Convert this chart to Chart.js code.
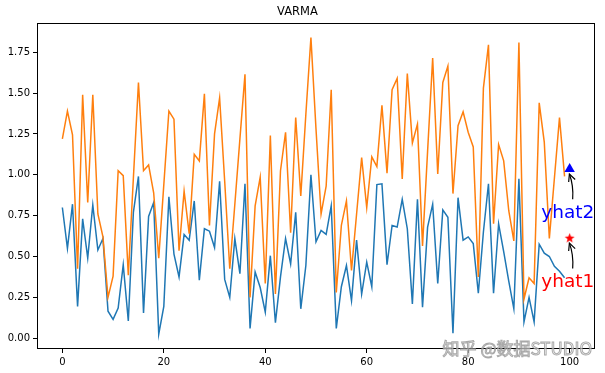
<!DOCTYPE html>
<html lang="en">
<head>
<meta charset="UTF-8">
<title>VARMA</title>
<script src="https://cdn.jsdelivr.net/npm/chart.js"></script>
<style>
    html, body { margin: 0; padding: 0; background: #ffffff; }
    canvas { display: block; }
</style>
</head>
<body>
<canvas id="chart" width="605" height="373"></canvas>
<script>
// series 1 (blue) and series 2 (orange), one value per step 0..99
const blueSeries = [
    0.80, 0.55, 0.82, 0.195, 0.73, 0.49, 0.815, 0.54, 0.61, 0.165,
    0.115, 0.185, 0.45, 0.105, 0.77, 0.99, 0.155, 0.745, 0.83, 0.025,
    0.195, 0.865, 0.515, 0.375, 0.635, 0.60, 0.84, 0.355, 0.67, 0.655,
    0.555, 0.96, 0.36, 0.25, 0.61, 0.395, 0.945, 0.06, 0.405, 0.31,
    0.16, 0.505, 0.095, 0.375, 0.61, 0.455, 0.77, 0.18, 0.445, 1.00,
    0.59, 0.66, 0.635, 0.81, 0.06, 0.315, 0.445, 0.23, 0.60, 0.27,
    0.465, 0.315, 0.94, 0.945, 0.45, 0.69, 0.68, 0.85, 0.67, 0.21,
    0.85, 0.19, 0.68, 0.82, 0.335, 0.785, 0.74, 0.03, 0.86, 0.60,
    0.62, 0.58, 0.275, 0.65, 0.945, 0.275, 0.70, 0.53, 0.35, 0.18,
    0.975, 0.10, 0.25, 0.10, 0.575, 0.52, 0.50, 0.44, 0.41, 0.37
];
const orangeSeries = [
    1.22, 1.39, 1.245, 0.425, 1.49, 0.83, 1.49, 0.76, 0.62, 0.25,
    0.38, 1.025, 0.995, 0.385, 0.98, 1.565, 1.025, 1.06, 0.89, 0.49,
    0.94, 1.39, 1.34, 0.535, 0.90, 0.64, 1.125, 1.085, 1.495, 0.69,
    1.25, 1.47, 0.96, 0.425, 0.82, 1.22, 1.615, 0.25, 0.81, 0.985,
    0.335, 1.24, 0.27, 1.025, 1.26, 0.645, 1.35, 0.87, 1.37, 1.84,
    1.28, 0.76, 0.93, 1.52, 0.28, 0.69, 0.84, 0.415, 0.76, 1.105,
    0.80, 1.11, 1.05, 1.425, 1.01, 1.52, 1.59, 0.975, 1.62, 1.195,
    1.31, 0.565, 1.145, 1.715, 1.005, 1.565, 1.665, 0.885, 1.30, 1.385,
    1.26, 1.17, 0.375, 1.53, 1.795, 0.70, 1.185, 1.085, 0.78, 0.595,
    1.81, 0.24, 0.37, 0.335, 1.44, 1.20, 0.61, 0.98, 1.35, 0.99
];
const steps = blueSeries.map((_, i) => i);

// one-step forecasts
const forecastStep = 100;
const yhat1 = 0.612;
const yhat2 = 1.035;
const forecastLabels = ['yhat1', 'yhat2'];

const xTicks = [0, 20, 40, 60, 80, 100];
const yTicks = [0, 0.25, 0.5, 0.75, 1.0, 1.25, 1.5, 1.75];

const FONT = 'DejaVu Sans, sans-serif';

// filled star marker (matplotlib "*")
function starImage(size, color) {
    const c = document.createElement('canvas');
    c.width = size; c.height = size;
    const g = c.getContext('2d');
    const cx = size / 2, cy = size / 2, ro = size / 2 - 0.3, ri = ro * 0.42;
    g.beginPath();
    for (let k = 0; k < 10; k++) {
        const r = k % 2 ? ri : ro;
        const a = -Math.PI / 2 + k * Math.PI / 5;
        g.lineTo(cx + r * Math.cos(a), cy + r * Math.sin(a));
    }
    g.closePath();
    g.fillStyle = color;
    g.fill();
    return c;
}

function drawArrow(ctx, x0, y0, x1, y1) {
    const cx = x0 + 1, cy = y1 + (y0 - y1) * 0.45;
    ctx.beginPath();
    ctx.moveTo(x0, y0);
    ctx.quadraticCurveTo(cx, cy, x1, y1);
    ctx.stroke();
    const ang = Math.atan2(y1 - cy, x1 - cx);
    const len = 8, spread = 0.45;
    ctx.beginPath();
    ctx.moveTo(x1 - len * Math.cos(ang - spread), y1 - len * Math.sin(ang - spread));
    ctx.lineTo(x1, y1);
    ctx.lineTo(x1 - len * Math.cos(ang + spread), y1 - len * Math.sin(ang + spread));
    ctx.stroke();
}

const extras = {
    id: 'extras',
    afterDatasetsDraw(chart) {
        const { ctx, chartArea: a, scales: { x, y } } = chart;
        ctx.save();
        // axes box
        ctx.strokeStyle = '#000';
        ctx.lineWidth = 1;
        ctx.strokeRect(Math.round(a.left) + 0.5, Math.round(a.top) + 0.5,
            Math.round(a.width) - 1, Math.round(a.height) - 1);

        // annotations
        const notes = [
            { text: forecastLabels[1], val: yhat2, color: '#0000ff' },
            { text: forecastLabels[0], val: yhat1, color: '#ff0000' }
        ];
        ctx.font = '18.5px ' + FONT;
        ctx.textBaseline = 'alphabetic';
        ctx.textAlign = 'left';
        ctx.lineWidth = 1.2;
        notes.forEach(n => {
            ctx.fillStyle = n.color;
            ctx.fillText(n.text, x.getPixelForValue(94.4), y.getPixelForValue(n.val - 0.30));
            ctx.strokeStyle = '#000';
            drawArrow(ctx,
                x.getPixelForValue(100.6), y.getPixelForValue(n.val - 0.185),
                x.getPixelForValue(99.95), y.getPixelForValue(n.val - 0.03));
        });
        ctx.restore();
    },
    afterDraw(chart) {
        const ctx = chart.ctx;
        ctx.save();
        ctx.font = '17px "Noto Sans CJK SC", sans-serif';
        ctx.textAlign = 'right';
        ctx.textBaseline = 'middle';
        ctx.lineWidth = 1;
        ctx.strokeStyle = 'rgba(140,140,140,0.75)';
        ctx.fillStyle = 'rgba(255,255,255,0.6)';
        ctx.fillText('知乎 @数据STUDIO', 592, 349);
        ctx.strokeText('知乎 @数据STUDIO', 592, 349);
        ctx.restore();
    }
};

new Chart(document.getElementById('chart'), {
    type: 'line',
    data: {
        datasets: [
            {
                data: steps.map((s, i) => ({ x: s, y: blueSeries[i] })),
                borderColor: '#1f77b4',
                borderWidth: 1.5,
                pointRadius: 0,
                tension: 0,
                order: 3
            },
            {
                data: steps.map((s, i) => ({ x: s, y: orangeSeries[i] })),
                borderColor: '#ff7f0e',
                borderWidth: 1.5,
                pointRadius: 0,
                tension: 0,
                order: 2
            },
            {
                data: [{ x: forecastStep, y: yhat2 }],
                showLine: false,
                pointStyle: 'triangle',
                pointRadius: 6,
                backgroundColor: '#0000ff',
                borderColor: '#0000ff',
                borderWidth: 0,
                order: 1
            },
            {
                data: [{ x: forecastStep, y: yhat1 }],
                showLine: false,
                pointStyle: starImage(11, '#ff0000'),
                order: 1
            }
        ]
    },
    options: {
        responsive: false,
        animation: false,
        layout: { padding: { left: 0, right: 10, top: 0, bottom: 0 } },
        plugins: {
            legend: { display: false },
            tooltip: { enabled: false },
            title: {
                display: true,
                text: 'VARMA',
                color: '#000',
                font: { family: FONT, size: 11.5, weight: 'normal' },
                padding: { top: 5, bottom: 4 }
            }
        },
        scales: {
            x: {
                type: 'linear',
                min: -5,
                max: 105,
                afterBuildTicks: s => { s.ticks = xTicks.map(v => ({ value: v })); },
                afterFit: s => { s.height = 24; },
                border: { display: false },
                grid: { drawOnChartArea: false, drawTicks: true, tickLength: 4, color: '#000' },
                ticks: {
                    color: '#000',
                    padding: 3,
                    maxRotation: 0,
                    font: { family: FONT, size: 10 },
                    callback: v => String(v)
                }
            },
            y: {
                min: -0.066,
                max: 1.93,
                afterBuildTicks: s => { s.ticks = yTicks.map(v => ({ value: v })); },
                afterFit: s => { s.width = 37; },
                border: { display: false },
                grid: { drawOnChartArea: false, drawTicks: true, tickLength: 4, color: '#000' },
                ticks: {
                    color: '#000',
                    padding: 3,
                    font: { family: FONT, size: 10 },
                    callback: v => v.toFixed(2)
                }
            }
        }
    },
    plugins: [extras]
});
</script>
</body>
</html>
